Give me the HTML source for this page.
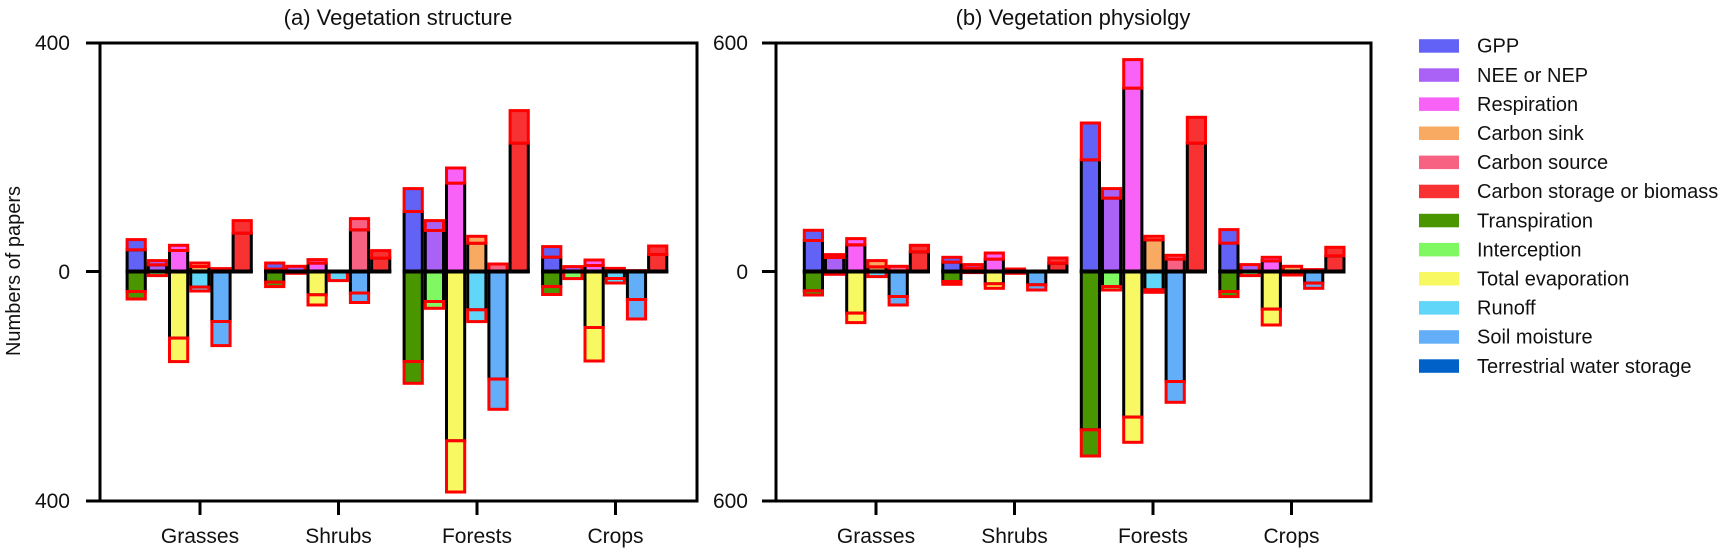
<!DOCTYPE html>
<html><head><meta charset="utf-8"><style>
html,body{margin:0;padding:0;background:#fff;width:1725px;height:549px;overflow:hidden}
svg{display:block;font-family:"Liberation Sans",Arial,sans-serif}
</style></head><body>
<svg id="s" width="1725" height="549" viewBox="0 0 1725 549" xmlns="http://www.w3.org/2000/svg">
<g id="bars"></g>
<g stroke="#000" stroke-width="3" fill="none">
<rect x="100" y="43" width="597" height="458"/>
<rect x="776" y="43" width="595" height="458"/>
<path d="M86 43H100M86 271.5H100M86 501H100M762 43H776M762 271.5H776M762 501H776"/>
<path d="M200 501V515M338.5 501V515M477 501V515M615.5 501V515M876 501V515M1014.5 501V515M1153 501V515M1291.5 501V515"/>
</g>
<g font-size="21" fill="#111">
<text x="398" y="25" text-anchor="middle" font-size="22">(a) Vegetation structure</text>
<text x="1073" y="25" text-anchor="middle" font-size="22">(b) Vegetation physiolgy</text>
<text x="70" y="50" text-anchor="end">400</text>
<text x="70" y="279" text-anchor="end">0</text>
<text x="70" y="508" text-anchor="end">400</text>
<text x="748" y="50" text-anchor="end">600</text>
<text x="748" y="279" text-anchor="end">0</text>
<text x="748" y="508" text-anchor="end">600</text>
<text transform="translate(20,271) rotate(-90)" text-anchor="middle" font-size="20">Numbers of papers</text>
<text x="200" y="543" text-anchor="middle">Grasses</text>
<text x="338.5" y="543" text-anchor="middle">Shrubs</text>
<text x="477" y="543" text-anchor="middle">Forests</text>
<text x="615.5" y="543" text-anchor="middle">Crops</text>
<text x="876" y="543" text-anchor="middle">Grasses</text>
<text x="1014.5" y="543" text-anchor="middle">Shrubs</text>
<text x="1153" y="543" text-anchor="middle">Forests</text>
<text x="1291.5" y="543" text-anchor="middle">Crops</text>
</g>
<g id="leg" font-size="20" fill="#111"></g>
</svg>
<script>
var C=["#6262f6","#aa62f6","#f862f6","#f8aa62","#f86282","#f83232","#4a9600","#80f862","#f8f862","#62d6f8","#62aef8","#0062c8"];
var N=["GPP","NEE or NEP","Respiration","Carbon sink","Carbon source","Carbon storage or biomass","Transpiration","Interception","Total evaporation","Runoff","Soil moisture","Terrestrial water storage"];
// per group: 6 positive [h,t], 6 negative [h,t]
var A=[
[[[33.4,11.7],[12.4,5.7],[27.7,6.7],[10,5],[4.4,4.4],[52.4,14]],[[29,9],[5.6,5.6],[91.6,25],[21,5.4],[75.6,25.6],[0,0]]],
[[[10,7.6],[6.7,6.7],[13.4,5],[0,0],[54.4,12.7],[22.4,9]],[[16.6,6],[3.3,3.3],[35,11.7],[10.6,10.6],[32.5,11],[0,0]]],
[[[84.4,24.4],[52.4,11.4],[105,16.6],[36.7,8.4],[9,9],[162.4,34]],[[113.3,23.3],[38.3,8.3],[222,52.7],[51.6,13.3],[139.3,31.7],[0,0]]],
[[[26.4,12],[6.4,6.4],[13,7],[4.6,4.6],[2.4,2.4],[27,10]],[[24.5,9.5],[8.6,8.6],[91,35],[13,6],[49,21],[0,0]]]];
var B=[
[[[42.7,11.7],[18.4,4.4],[34.4,7.7],[12.4,7.7],[6.7,6.7],[27.7,8]],[[25,5.7],[4.3,4.3],[52.6,11],[6.6,6.6],[35,10],[0,0]]],
[[[15.7,6.3],[8.4,5],[20,7.6],[4,4],[0,0],[15,6.7]],[[14.3,4.3],[2.6,2.6],[18.3,6],[3.3,3.3],[20,6.7],[0,0]]],
[[[150,38.3],[84.4,11],[213.4,30],[36.7,5],[17.7,5.3],[155.7,27.3]],[[186,27.7],[20,5],[172.3,26.7],[22.3,4],[132.3,22.3],[0,0]]],
[[[43.4,15],[8.4,8.4],[15.7,5],[6.7,6.7],[3.4,3.4],[25.7,10]],[[26.6,6.6],[5.6,5.6],[55,17.4],[5,5],[18.3,6.7],[0,0]]]];
var Z=271.5,W=21.2,out="";
function R(x,y,w,h,f,s){return '<rect x="'+x.toFixed(1)+'" y="'+y.toFixed(1)+'" width="'+w.toFixed(1)+'" height="'+Math.max(h,0.5).toFixed(1)+'" fill="'+f+'" stroke="'+s+'" stroke-width="3"/>';}
function panel(D,x0){
 for(var g=0;g<4;g++){
  var gx=x0+138.5*g;
  for(var sgn=0;sgn<2;sgn++){
   for(var i=0;i<6;i++){
    var h=D[g][sgn][i][0],t=D[g][sgn][i][1];if(h<=0)continue;
    var col=C[sgn*6+i],x=gx+i*W+1.5,w=W-3;
    if(sgn==0){
     if(h>t+1)out+=R(x,Z-h+t,w,h-t,col,"#000");
     out+=R(x,Z-h+1.5,w,t-1.5,col,"#f00");
    }else{
     if(h>t+1)out+=R(x,Z,w,h-t,col,"#000");
     out+=R(x,Z+h-t,w,t-1.5,col,"#f00");
    }
   }
  }
  out+='<line x1="'+gx+'" x2="'+(gx+6*W)+'" y1="'+Z+'" y2="'+Z+'" stroke="#000" stroke-width="4"/>';
 }
}
panel(A,125.6);panel(B,802.8);
document.getElementById("bars").innerHTML=out;
var l="";
for(var i=0;i<12;i++){var y=45.7+29.1*i;l+='<rect x="1419" y="'+(y-6.5)+'" width="40" height="13.5" fill="'+C[i]+'"/><text x="1477" y="'+(y+7)+'">'+N[i]+'</text>';}
document.getElementById("leg").innerHTML=l;
</script>
</body></html>
